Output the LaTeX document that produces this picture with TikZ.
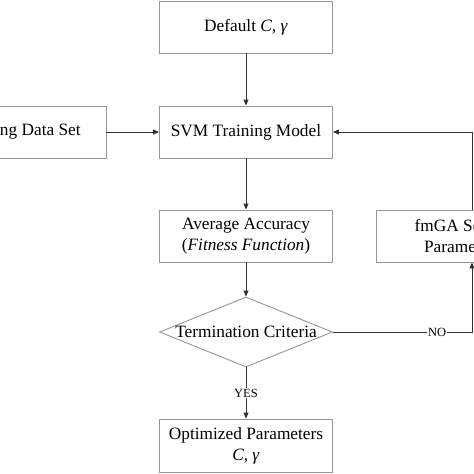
\documentclass[tikz,border=0pt]{standalone}
\usepackage{fontspec}
\setmainfont{Liberation Serif}
\usepackage{tikz}
\usetikzlibrary{positioning,arrows.meta,calc,shapes.geometric}
\definecolor{boxline}{RGB}{150,150,150}
\definecolor{flowline}{RGB}{50,50,50}

\begin{document}
\begin{tikzpicture}[x=1pt, y=-1pt,
    every node/.style={font=\fontsize{17.3}{21}\selectfont},
    stage/.style={draw=boxline, line width=0.9pt, minimum width=173pt, minimum height=52pt, align=center, inner sep=2pt},
    check/.style={draw=boxline, line width=0.9pt, diamond, aspect=2.47, minimum width=173pt, minimum height=70pt, inner sep=0pt},
    flow/.style={draw=flowline, line width=0.9pt, -{Triangle[length=6pt,width=5pt]}},
    tag/.style={fill=white, inner sep=1pt, font=\fontsize{12.5}{14}\selectfont}]
  \useasboundingbox (0,0) rectangle (474,474);
  \clip (0,0) rectangle (474,474);
  % boxes
  \node[stage] (default) at (246,27) {Default \textit{C}, \textit{γ}};
  \node[stage] (svm) at (246,132) {SVM Training Model};
  \node[stage] (data) at (19.5,132) {Training Data Set};
  \node[stage] (accuracy) at (246,236) {Average Accuracy\\(\textit{Fitness Function})};
  \node[stage] (fmga) at (462.5,236) {fmGA Search\\Parameters};
  \node[check] (term) at (246,332) {Termination Criteria};
  \node[stage, minimum height=53pt] (optim) at (246,445.5) {Optimized Parameters\\\textit{C}, \textit{γ}};
  \coordinate (rail) at (472,0);
  % connectors
  \draw[flow] (default) -- (svm);
  \draw[flow] (data) -- (svm);
  \draw[flow] (svm) -- (accuracy);
  \draw[flow] (accuracy) -- (term);
  \draw[flow] (term) -- node[tag, pos=0.5] {YES} (optim);
  \draw[flow] (term.east) -- node[tag, pos=0.75] {NO} (term.east -| rail) -- (fmga.south -| rail);
  \draw[flow] (fmga.north -| rail) -- (svm.east -| rail) -- (svm.east);
\end{tikzpicture}
\end{document}
